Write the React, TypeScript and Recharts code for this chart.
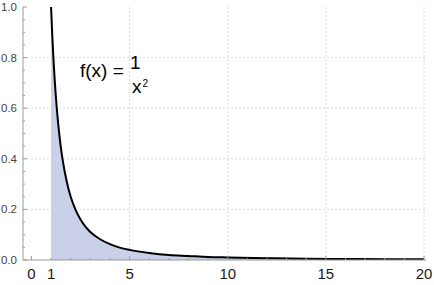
import { Area, CartesianGrid, ComposedChart, XAxis, YAxis } from 'recharts';

// points
const X_VALUES = [1, 1.05, 1.1, 1.15, 1.2, 1.3, 1.4, 1.5, 1.6, 1.8, 2, 2.25, 2.5, 2.75, 3, 3.5, 4, 4.5, 5, 6, 7, 8, 9, 10, 12, 14, 16, 18, 20];
const Y_VALUES = [1, 0.907, 0.826, 0.756, 0.694, 0.592, 0.51, 0.444, 0.391, 0.309, 0.25, 0.198, 0.16, 0.132, 0.111, 0.082, 0.0625, 0.049, 0.04, 0.028, 0.02, 0.016, 0.012, 0.01, 0.007, 0.005, 0.004, 0.003, 0.0025];

const X_TICKS = [0, 1, 2, 3, 4, 5, 6, 7, 8, 9, 10, 11, 12, 13, 14, 15, 16, 17, 18, 19, 20];
const X_MAJOR = [0, 5, 10, 15, 20];
const X_LABELS = [0, 1, 5, 10, 15, 20];
const Y_TICKS = [0, 0.05, 0.1, 0.15, 0.2, 0.25, 0.3, 0.35, 0.4, 0.45, 0.5, 0.55, 0.6, 0.65, 0.7, 0.75, 0.8, 0.85, 0.9, 0.95, 1];
const Y_MAJOR = [0, 0.2, 0.4, 0.6, 0.8, 1];
const GRID_X = [5, 10, 15, 20];
const GRID_Y = [0.2, 0.4, 0.6, 0.8];

const data = X_VALUES.map((x, i) => ({ x, y: Y_VALUES[i] }));

const FONT = '"Liberation Sans", Arial, Helvetica, sans-serif';
const TICK_COLOR = '#9a9a9a';
const FRAME_LIGHT = '#cfcfcf';

const isMajorX = (v: number) => X_MAJOR.includes(v);
const isMajorY = (v: number) => Y_MAJOR.some((m) => Math.abs(m - v) < 1e-9);

function BottomTick(props: any) {
  const { x, y, payload } = props;
  const v = payload.value as number;
  return (
    <g>
      <line x1={x} x2={x} y1={y} y2={y - (isMajorX(v) ? 4 : 2)} stroke={TICK_COLOR} />
      {X_LABELS.includes(v) && (
        <text x={x} y={y + 19} textAnchor="middle" fontSize={15} fill="#1a1a1a" fontFamily={FONT}>
          {v}
        </text>
      )}
    </g>
  );
}

function TopTick(props: any) {
  const { x, y, payload } = props;
  const v = payload.value as number;
  return <line x1={x} x2={x} y1={y} y2={y + (isMajorX(v) ? 4 : 2)} stroke={FRAME_LIGHT} />;
}

function LeftTick(props: any) {
  const { x, y, payload } = props;
  const v = payload.value as number;
  const major = isMajorY(v);
  return (
    <g>
      <line x1={x} x2={x + (major ? 4 : 2)} y1={y} y2={y} stroke={TICK_COLOR} />
      {major && (
        <text x={x - 6} y={y + 4} textAnchor="end" fontSize={11.5} fill="#444" fontFamily={FONT}>
          {v.toFixed(1)}
        </text>
      )}
    </g>
  );
}

function RightTick(props: any) {
  const { x, y, payload } = props;
  const v = payload.value as number;
  return <line x1={x} x2={x - (isMajorY(v) ? 4 : 2)} y1={y} y2={y} stroke={FRAME_LIGHT} />;
}

export default function App() {
  return (
    <div style={{ position: 'absolute', left: 0, top: 0, width: 434, height: 285, background: '#fff' }}>
      <ComposedChart width={434} height={285} data={data} margin={{ top: 7, right: 8, bottom: 0, left: 0 }}>
        <CartesianGrid
          stroke="#dcdcdc"
          strokeDasharray="2 2"
          verticalValues={GRID_X}
          horizontalValues={GRID_Y}
        />
        <XAxis
          dataKey="x"
          type="number"
          domain={[-0.43, 20.1]}
          allowDataOverflow
          ticks={X_TICKS}
          interval={0}
          tick={BottomTick}
          tickLine={false}
          tickSize={0}
          tickMargin={0}
          height={25}
          axisLine={{ stroke: TICK_COLOR }}
        />
        <XAxis
          xAxisId="top"
          orientation="top"
          type="number"
          domain={[-0.43, 20.1]}
          allowDataOverflow
          ticks={X_TICKS}
          interval={0}
          tick={TopTick}
          tickLine={false}
          tickSize={0}
          tickMargin={0}
          height={0}
          axisLine={{ stroke: FRAME_LIGHT }}
        />
        <YAxis
          type="number"
          domain={[0, 1]}
          allowDataOverflow
          ticks={Y_TICKS}
          interval={0}
          tick={LeftTick}
          tickLine={false}
          tickSize={0}
          tickMargin={0}
          width={23}
          axisLine={{ stroke: TICK_COLOR }}
        />
        <YAxis
          yAxisId="right"
          orientation="right"
          type="number"
          domain={[0, 1]}
          allowDataOverflow
          ticks={Y_TICKS}
          interval={0}
          tick={RightTick}
          tickLine={false}
          tickSize={0}
          tickMargin={0}
          width={0}
          axisLine={{ stroke: FRAME_LIGHT }}
        />
        <Area
          type="monotone"
          dataKey="y"
          stroke="#000"
          strokeWidth={2}
          fill="#c9d0e8"
          fillOpacity={1}
          baseValue={0}
          dot={false}
          activeDot={false}
          isAnimationActive={false}
        />
      </ComposedChart>
      <svg width={434} height={285} style={{ position: 'absolute', left: 0, top: 0, pointerEvents: 'none' }}>
        <g fontFamily={FONT} fill="#000">
          <text x={80} y={77} fontSize={19}>f(x) =</text>
          <text x={130} y={68.5} fontSize={19}>1</text>
          <text x={132} y={93} fontSize={19}>x</text>
          <text x={142.5} y={87} fontSize={10}>2</text>
        </g>
      </svg>
    </div>
  );
}
